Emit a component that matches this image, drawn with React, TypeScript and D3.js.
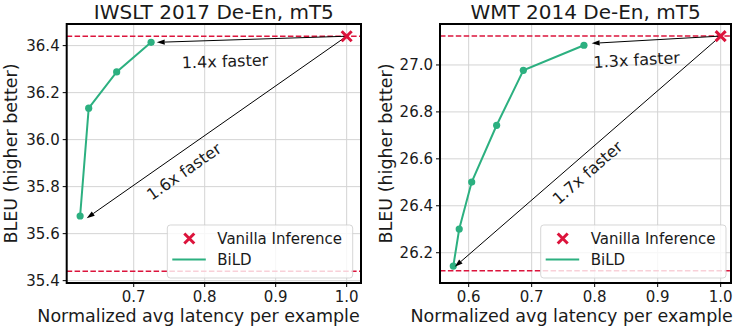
import React from "react";
import * as d3 from "d3";

// ---------- data ----------
const leftTitle = "IWSLT 2017 De-En, mT5";
const leftBildLatency = [0.7245, 0.676, 0.6366, 0.6245];
const leftBildBleu = [36.414, 36.288, 36.134, 35.675];
const leftVanillaLatency = 1.0;
const leftVanillaBleu = 36.44;
const leftLowerBleu = 35.44;
const leftXTicks = [0.7, 0.8, 0.9, 1.0];
const leftYTicks = [35.4, 35.6, 35.8, 36.0, 36.2, 36.4];
const leftAnnLabels = ["1.4x faster", "1.6x faster"];
const leftAnnEndLatency = [0.7324, 0.6338];
const leftAnnEndBleu = [36.414, 35.666];
const leftAnnTextLatency = [0.8286, 0.7708];
const leftAnnTextBleu = [36.333, 35.864];

const rightTitle = "WMT 2014 De-En, mT5";
const rightBildLatency = [0.783, 0.6868, 0.6444, 0.6048, 0.585, 0.5756];
const rightBildBleu = [27.084, 26.977, 26.743, 26.501, 26.301, 26.143];
const rightVanillaLatency = 1.0;
const rightVanillaBleu = 27.123;
const rightLowerBleu = 26.123;
const rightXTicks = [0.6, 0.7, 0.8, 0.9, 1.0];
const rightYTicks = [26.2, 26.4, 26.6, 26.8, 27.0];
const rightAnnLabels = ["1.3x faster", "1.7x faster"];
const rightAnnEndLatency = [0.7952, 0.578];
const rightAnnEndBleu = [27.092, 26.14];
const rightAnnTextLatency = [0.8667, 0.7886];
const rightAnnTextBleu = [27.021, 26.541];

const legendLabels = ["Vanilla Inference", "BiLD"];
const xLabel = "Normalized avg latency per example";
const yLabel = "BLEU (higher better)";

const RED = "#dc143c";
const GREEN = "#2cb080";
const FONT = "DejaVu Sans, sans-serif";

type PanelProps = {
  title: string;
  left: number;
  right: number;
  xDomain: [number, number];
  yDomain: [number, number];
  xTicks: number[];
  yTicks: number[];
  bildX: number[];
  bildY: number[];
  vanX: number;
  vanY: number;
  lowY: number;
  annLabels: string[];
  annEndX: number[];
  annEndY: number[];
  annTextX: number[];
  annTextY: number[];
  yLabelX: number;
  xLabelCx: number;
  legendX: number;
  legendW: number;
};

function Panel(p: PanelProps) {
  const top = 24;
  const bottom = 283;
  const x = d3.scaleLinear().domain(p.xDomain).range([p.left, p.right]);
  const y = d3.scaleLinear().domain(p.yDomain).range([bottom, top]);
  const line = d3
    .line<number>()
    .x((_, i) => x(p.bildX[i]))
    .y((d) => y(d));
  const vx = x(p.vanX);
  const vy = y(p.vanY);
  const clipId = "clip" + Math.round(p.left);
  const lgTop = 225;
  const lgH = 53;
  return (
    <g>
      <defs>
        <clipPath id={clipId}>
          <rect x={p.left} y={top} width={p.right - p.left} height={bottom - top} />
        </clipPath>
      </defs>
      {/* grid */}
      {p.xTicks.map((t) => (
        <line key={"gx" + t} x1={x(t)} x2={x(t)} y1={top} y2={bottom} stroke="#d4d4d4" strokeWidth={1} />
      ))}
      {p.yTicks.map((t) => (
        <line key={"gy" + t} x1={p.left} x2={p.right} y1={y(t)} y2={y(t)} stroke="#d4d4d4" strokeWidth={1} />
      ))}
      {/* dashed reference lines */}
      <g clipPath={`url(#${clipId})`}>
        <line x1={p.left} x2={p.right} y1={y(p.vanY)} y2={y(p.vanY)} stroke={RED} strokeWidth={1.5} strokeDasharray="5.5,2.4" />
        <line x1={p.left} x2={p.right} y1={y(p.lowY)} y2={y(p.lowY)} stroke={RED} strokeWidth={1.5} strokeDasharray="5.5,2.4" />
      </g>
      {/* BiLD line */}
      <path d={line(p.bildY) || ""} fill="none" stroke={GREEN} strokeWidth={2} />
      {p.bildY.map((d, i) => (
        <circle key={"pt" + i} cx={x(p.bildX[i])} cy={y(d)} r={3.6} fill={GREEN} />
      ))}
      {/* arrows + labels */}
      {p.annLabels.map((lab, i) => {
        const ex = x(p.annEndX[i]);
        const ey = y(p.annEndY[i]);
        const dx = ex - vx;
        const dy = ey - vy;
        const len = Math.sqrt(dx * dx + dy * dy);
        const ux = dx / len;
        const uy = dy / len;
        const hl = 8;
        const hw = 2.6;
        const bx = ex - ux * hl;
        const by = ey - uy * hl;
        const head = `M${ex},${ey}L${bx - uy * hw},${by + ux * hw}L${bx + uy * hw},${by - ux * hw}Z`;
        const ang = (Math.atan2(vy - ey, vx - ex) * 180) / Math.PI;
        const tx = x(p.annTextX[i]);
        const ty = y(p.annTextY[i]);
        return (
          <g key={"ann" + i}>
            <line x1={vx} y1={vy} x2={bx} y2={by} stroke="#000" strokeWidth={1} />
            <path d={head} fill="#000" />
            <text
              x={tx}
              y={ty}
              transform={`rotate(${ang},${tx},${ty})`}
              textAnchor="middle"
              dominantBaseline="central"
              fontSize={16}
              fontFamily={FONT}
              fill="#1a1a1a"
            >
              {lab}
            </text>
          </g>
        );
      })}
      {/* vanilla marker */}
      <path
        d={`M${vx - 5},${vy - 5}L${vx + 5},${vy + 5}M${vx - 5},${vy + 5}L${vx + 5},${vy - 5}`}
        stroke={RED}
        strokeWidth={3}
        fill="none"
      />
      {/* legend */}
      <rect
        x={p.legendX}
        y={lgTop}
        width={p.legendW}
        height={lgH}
        rx={3}
        fill="#ffffff"
        fillOpacity={0.8}
        stroke="#cccccc"
        strokeOpacity={0.8}
        strokeWidth={1}
      />
      <path
        d={`M${p.legendX + 17},${lgTop + 8.5}L${p.legendX + 27},${lgTop + 18.5}M${p.legendX + 17},${lgTop + 18.5}L${p.legendX + 27},${lgTop + 8.5}`}
        stroke={RED}
        strokeWidth={3}
      />
      <line x1={p.legendX + 5} x2={p.legendX + 38.5} y1={lgTop + 34.5} y2={lgTop + 34.5} stroke={GREEN} strokeWidth={2} />
      <text x={p.legendX + 50} y={lgTop + 18.5} fontSize={15} fontFamily={FONT} fill="#1a1a1a">
        {legendLabels[0]}
      </text>
      <text x={p.legendX + 50} y={lgTop + 40} fontSize={15} fontFamily={FONT} fill="#1a1a1a">
        {legendLabels[1]}
      </text>
      {/* frame */}
      <rect x={p.left} y={top} width={p.right - p.left} height={bottom - top} fill="none" stroke="#000" strokeWidth={2} />
      {/* ticks */}
      {p.xTicks.map((t) => (
        <g key={"xt" + t}>
          <line x1={x(t)} x2={x(t)} y1={bottom} y2={bottom + 4} stroke="#000" strokeWidth={1} />
          <text x={x(t)} y={301.5} textAnchor="middle" fontSize={15} fontFamily={FONT} fill="#1a1a1a">
            {d3.format(".1f")(t)}
          </text>
        </g>
      ))}
      {p.yTicks.map((t) => (
        <g key={"yt" + t}>
          <line x1={p.left - 4} x2={p.left} y1={y(t)} y2={y(t)} stroke="#000" strokeWidth={1} />
          <text
            x={p.left - 7}
            y={y(t)}
            textAnchor="end"
            dominantBaseline="central"
            fontSize={15}
            fontFamily={FONT}
            fill="#1a1a1a"
          >
            {d3.format(".1f")(t)}
          </text>
        </g>
      ))}
      {/* labels */}
      <text
        x={(p.left + p.right) / 2}
        y={19}
        textAnchor="middle"
        fontSize={20}
        fontFamily={FONT}
        fill="#1a1a1a"
      >
        {p.title}
      </text>
      <text x={p.xLabelCx} y={321.5} textAnchor="middle" fontSize={17.5} fontFamily={FONT} fill="#1a1a1a">
        {xLabel}
      </text>
      <text
        x={p.yLabelX}
        y={153.5}
        transform={`rotate(-90,${p.yLabelX},153.5)`}
        textAnchor="middle"
        dominantBaseline="central"
        fontSize={17.5}
        fontFamily={FONT}
        fill="#1a1a1a"
      >
        {yLabel}
      </text>
    </g>
  );
}

export default function App() {
  return (
    <div style={{ position: "absolute", left: 0, top: 0 }}>
      <svg width={739} height={331} style={{ display: "block", background: "#fff" }}>
        <rect width={739} height={331} fill="#fff" />
        <Panel
          title={leftTitle}
          left={66.7}
          right={361}
          xDomain={[0.6056, 1.0202]}
          yDomain={[35.39, 36.492]}
          xTicks={leftXTicks}
          yTicks={leftYTicks}
          bildX={leftBildLatency}
          bildY={leftBildBleu}
          vanX={leftVanillaLatency}
          vanY={leftVanillaBleu}
          lowY={leftLowerBleu}
          annLabels={leftAnnLabels}
          annEndX={leftAnnEndLatency}
          annEndY={leftAnnEndBleu}
          annTextX={leftAnnTextLatency}
          annTextY={leftAnnTextBleu}
          yLabelX={11}
          xLabelCx={198.5}
          legendX={167.3}
          legendW={185.4}
        />
        <Panel
          title={rightTitle}
          left={440}
          right={731}
          xDomain={[0.5545, 1.0164]}
          yDomain={[26.071, 27.1745]}
          xTicks={rightXTicks}
          yTicks={rightYTicks}
          bildX={rightBildLatency}
          bildY={rightBildBleu}
          vanX={rightVanillaLatency}
          vanY={rightVanillaBleu}
          lowY={rightLowerBleu}
          annLabels={rightAnnLabels}
          annEndX={rightAnnEndLatency}
          annEndY={rightAnnEndBleu}
          annTextX={rightAnnTextLatency}
          annTextY={rightAnnTextBleu}
          yLabelX={386}
          xLabelCx={571.7}
          legendX={540.7}
          legendW={185.3}
        />
      </svg>
    </div>
  );
}
